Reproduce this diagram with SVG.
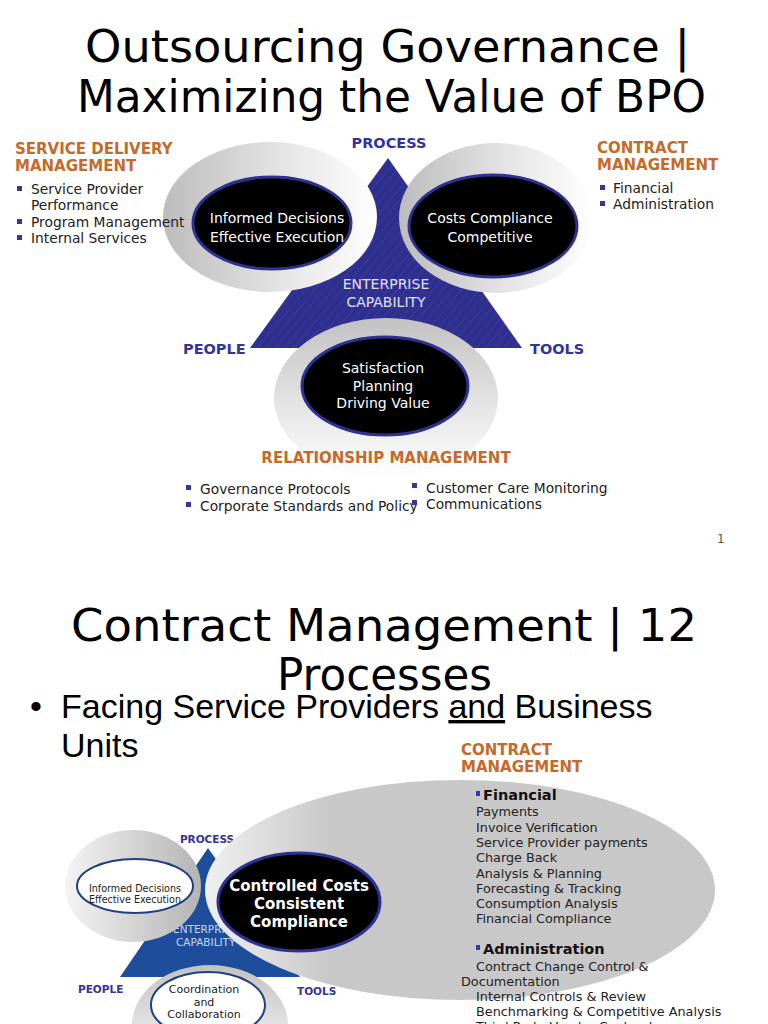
<svg xmlns="http://www.w3.org/2000/svg" width="768" height="1024" viewBox="0 0 768 1024">
<defs>
<style>
.title{font-family:"DejaVu Sans",sans-serif;font-size:45px;fill:#000}
.orange{font-family:"DejaVu Sans",sans-serif;font-weight:bold;font-size:15px;fill:#C46A2B}
.navy{font-family:"DejaVu Sans",sans-serif;font-weight:bold;font-size:14.5px;fill:#333399}
.navys{font-family:"DejaVu Sans",sans-serif;font-weight:bold;font-size:10.5px;fill:#333399}
.bul{font-family:"DejaVu Sans",sans-serif;font-size:13.8px;fill:#222}
.wt{font-family:"DejaVu Sans",sans-serif;font-size:14px;fill:#fff}
.ent{font-family:"DejaVu Sans",sans-serif;font-size:14px;fill:#e2e2f6}
.ents{font-family:"DejaVu Sans",sans-serif;font-size:10.5px;fill:#c9d6f2}
.sm{font-family:"DejaVu Sans",sans-serif;font-size:9.6px;fill:#222}
.sm2{font-family:"DejaVu Sans",sans-serif;font-size:11px;fill:#222}
.wb{font-family:"DejaVu Sans",sans-serif;font-weight:bold;font-size:15px;fill:#fff}
.it{font-family:"DejaVu Sans",sans-serif;font-size:12.8px;fill:#222}
.itb{font-family:"DejaVu Sans",sans-serif;font-weight:bold;font-size:14.5px;fill:#111}
.sq{fill:#2E3A94}
.blk{fill:#000;stroke:#2E3192;stroke-width:3}
.wel{fill:#fff;stroke:#1F3F7F;stroke-width:2}
.arial{font-family:"Liberation Sans",Arial,sans-serif;font-size:34px;fill:#000}
</style>
<pattern id="hatch" patternUnits="userSpaceOnUse" width="7" height="7" patternTransform="rotate(40)">
<rect width="7" height="7" fill="#2E2F8E"/>
<line x1="0" y1="0" x2="0" y2="7" stroke="#4A4DA6" stroke-width="0.8"/>
</pattern>
<linearGradient id="gL" x1="0" y1="0" x2="1" y2="0">
<stop offset="0" stop-color="#bcbcbc"/>
<stop offset="0.55" stop-color="#e4e4e4"/>
<stop offset="1" stop-color="#ffffff"/>
</linearGradient>
<linearGradient id="gV" x1="0" y1="0" x2="0" y2="1">
<stop offset="0" stop-color="#c2c2c2"/>
<stop offset="0.6" stop-color="#e8e8e8"/>
<stop offset="1" stop-color="#ffffff"/>
</linearGradient>
<linearGradient id="gS" x1="0" y1="0" x2="1" y2="0">
<stop offset="0" stop-color="#f4f4f4"/>
<stop offset="1" stop-color="#b4b4b4"/>
</linearGradient>
<linearGradient id="gBig" gradientUnits="userSpaceOnUse" x1="205" y1="0" x2="330" y2="0">
<stop offset="0" stop-color="#f0f0f0"/>
<stop offset="1" stop-color="#c8c8c8"/>
</linearGradient>
</defs>
<rect width="768" height="1024" fill="#fff"/>

<g id="title1">
<text class="title" x="85" y="62" textLength="605" lengthAdjust="spacingAndGlyphs">Outsourcing Governance |</text>
<text class="title" x="77" y="112" textLength="629" lengthAdjust="spacingAndGlyphs">Maximizing the Value of BPO</text>
</g>

<g id="triangle-top">
<polygon points="388,158 250,348 522,348" fill="url(#hatch)"/>
<text class="ent" x="386" y="289" text-anchor="middle">ENTERPRISE</text>
<text class="ent" x="386" y="307" text-anchor="middle">CAPABILITY</text>
</g>

<g id="node-informed">
<ellipse cx="270" cy="217" rx="107" ry="75" fill="url(#gL)"/>
<ellipse class="blk" cx="272" cy="223" rx="79" ry="46"/>
<text class="wt" x="277" y="223" text-anchor="middle">Informed Decisions</text>
<text class="wt" x="277" y="242" text-anchor="middle">Effective Execution</text>
</g>

<g id="node-costs">
<ellipse cx="496" cy="218" rx="97" ry="75" fill="url(#gL)"/>
<ellipse class="blk" cx="493" cy="226" rx="84" ry="51"/>
<text class="wt" x="490" y="223" text-anchor="middle">Costs Compliance</text>
<text class="wt" x="490" y="242" text-anchor="middle">Competitive</text>
</g>

<g id="node-satisfaction">
<ellipse cx="386" cy="398" rx="112" ry="80" fill="url(#gV)"/>
<ellipse class="blk" cx="385" cy="386" rx="83" ry="49"/>
<text class="wt" x="383" y="373" text-anchor="middle">Satisfaction</text>
<text class="wt" x="383" y="391" text-anchor="middle">Planning</text>
<text class="wt" x="383" y="408" text-anchor="middle">Driving Value</text>
</g>

<g id="labels-top">
<text class="navy" x="389" y="148" text-anchor="middle">PROCESS</text>
<text class="navy" x="183" y="354">PEOPLE</text>
<text class="navy" x="530" y="354">TOOLS</text>
</g>

<g id="service-delivery">
<text class="orange" x="15" y="154">SERVICE DELIVERY</text>
<text class="orange" x="15" y="171">MANAGEMENT</text>
<rect class="sq" x="17" y="186" width="5" height="5"/>
<text class="bul" x="31" y="194">Service Provider</text>
<text class="bul" x="31" y="210">Performance</text>
<rect class="sq" x="17" y="219" width="5" height="5"/>
<text class="bul" x="31" y="227">Program Management</text>
<rect class="sq" x="17" y="235" width="5" height="5"/>
<text class="bul" x="31" y="243">Internal Services</text>
</g>

<g id="contract-top">
<text class="orange" x="597" y="153">CONTRACT</text>
<text class="orange" x="597" y="170">MANAGEMENT</text>
<rect class="sq" x="600" y="185" width="5" height="5"/>
<text class="bul" x="613" y="193">Financial</text>
<rect class="sq" x="600" y="201" width="5" height="5"/>
<text class="bul" x="613" y="209">Administration</text>
</g>

<g id="relationship">
<text class="orange" x="386" y="463" text-anchor="middle">RELATIONSHIP MANAGEMENT</text>
<rect class="sq" x="186" y="485" width="5" height="5"/>
<text class="bul" x="200" y="494">Governance Protocols</text>
<rect class="sq" x="186" y="502" width="5" height="5"/>
<text class="bul" x="200" y="511">Corporate Standards and Policy</text>
<rect class="sq" x="412" y="483" width="5" height="5"/>
<text class="bul" x="426" y="493">Customer Care Monitoring</text>
<rect class="sq" x="412" y="500" width="5" height="5"/>
<text class="bul" x="426" y="509">Communications</text>
</g>

<text x="717" y="543" font-family="DejaVu Sans,sans-serif" font-size="12" fill="#555">1</text>

<g id="title2">
<text class="title" x="71" y="641" textLength="626" lengthAdjust="spacingAndGlyphs">Contract Management | 12</text>
<text class="title" x="277" y="690" textLength="215" lengthAdjust="spacingAndGlyphs">Processes</text>
<text class="arial" x="30" y="718">•</text>
<text class="arial" x="61" y="718">Facing Service Providers <tspan text-decoration="underline">and</tspan> Business</text>
<text class="arial" x="61" y="757">Units</text>
</g>

<g id="small-triangle">
<polygon points="208,848 120,977 300,977" fill="#1E4D9B"/>
<text class="ents" x="173" y="933">ENTERPRISE</text>
<text class="ents" x="176" y="946">CAPABILITY</text>
</g>

<g id="node-informed-small">
<ellipse cx="133" cy="886" rx="68" ry="56" fill="url(#gS)"/>
<ellipse class="wel" cx="135" cy="886" rx="58" ry="27"/>
<text class="sm" x="135" y="892" text-anchor="middle">Informed Decisions</text>
<text class="sm" x="135" y="903" text-anchor="middle">Effective Execution</text>
</g>

<g id="node-coordination">
<ellipse cx="210" cy="1025" rx="78" ry="60" fill="url(#gV)"/>
<ellipse class="wel" cx="208" cy="1005" rx="57" ry="33"/>
<text class="sm2" x="204" y="993" text-anchor="middle">Coordination</text>
<text class="sm2" x="204" y="1006" text-anchor="middle">and</text>
<text class="sm2" x="204" y="1018" text-anchor="middle">Collaboration</text>
</g>

<g id="labels-small">
<text class="navys" x="207" y="843" text-anchor="middle">PROCESS</text>
<text class="navys" x="78" y="993">PEOPLE</text>
<text class="navys" x="297" y="995">TOOLS</text>
</g>

<g id="node-contract-big">
<ellipse cx="460" cy="890" rx="255" ry="110" fill="url(#gBig)"/>
<ellipse class="blk" cx="299" cy="902" rx="81" ry="49"/>
<text class="wb" x="299" y="891" text-anchor="middle">Controlled Costs</text>
<text class="wb" x="299" y="909" text-anchor="middle">Consistent</text>
<text class="wb" x="299" y="927" text-anchor="middle">Compliance</text>
</g>

<g id="contract-list">
<text class="orange" x="461" y="755">CONTRACT</text>
<text class="orange" x="461" y="772">MANAGEMENT</text>
<rect x="476" y="791" width="4" height="5" fill="#3333CC"/>
<text class="itb" x="483" y="800">Financial</text>
<text class="it" x="476" y="816">Payments</text>
<text class="it" x="476" y="832">Invoice Verification</text>
<text class="it" x="476" y="847">Service Provider payments</text>
<text class="it" x="476" y="862">Charge Back</text>
<text class="it" x="476" y="878">Analysis &amp; Planning</text>
<text class="it" x="476" y="893">Forecasting &amp; Tracking</text>
<text class="it" x="476" y="908">Consumption Analysis</text>
<text class="it" x="476" y="923">Financial Compliance</text>
<rect x="476" y="945" width="4" height="5" fill="#3333CC"/>
<text class="itb" x="483" y="954">Administration</text>
<text class="it" x="476" y="971">Contract Change Control &amp;</text>
<text class="it" x="461" y="986">Documentation</text>
<text class="it" x="476" y="1001">Internal Controls &amp; Review</text>
<text class="it" x="476" y="1016">Benchmarking &amp; Competitive Analysis</text>
<text class="it" x="476" y="1031">Third Party Vendor Contracts</text>
</g>

<g id="connectors"/>
</svg>
